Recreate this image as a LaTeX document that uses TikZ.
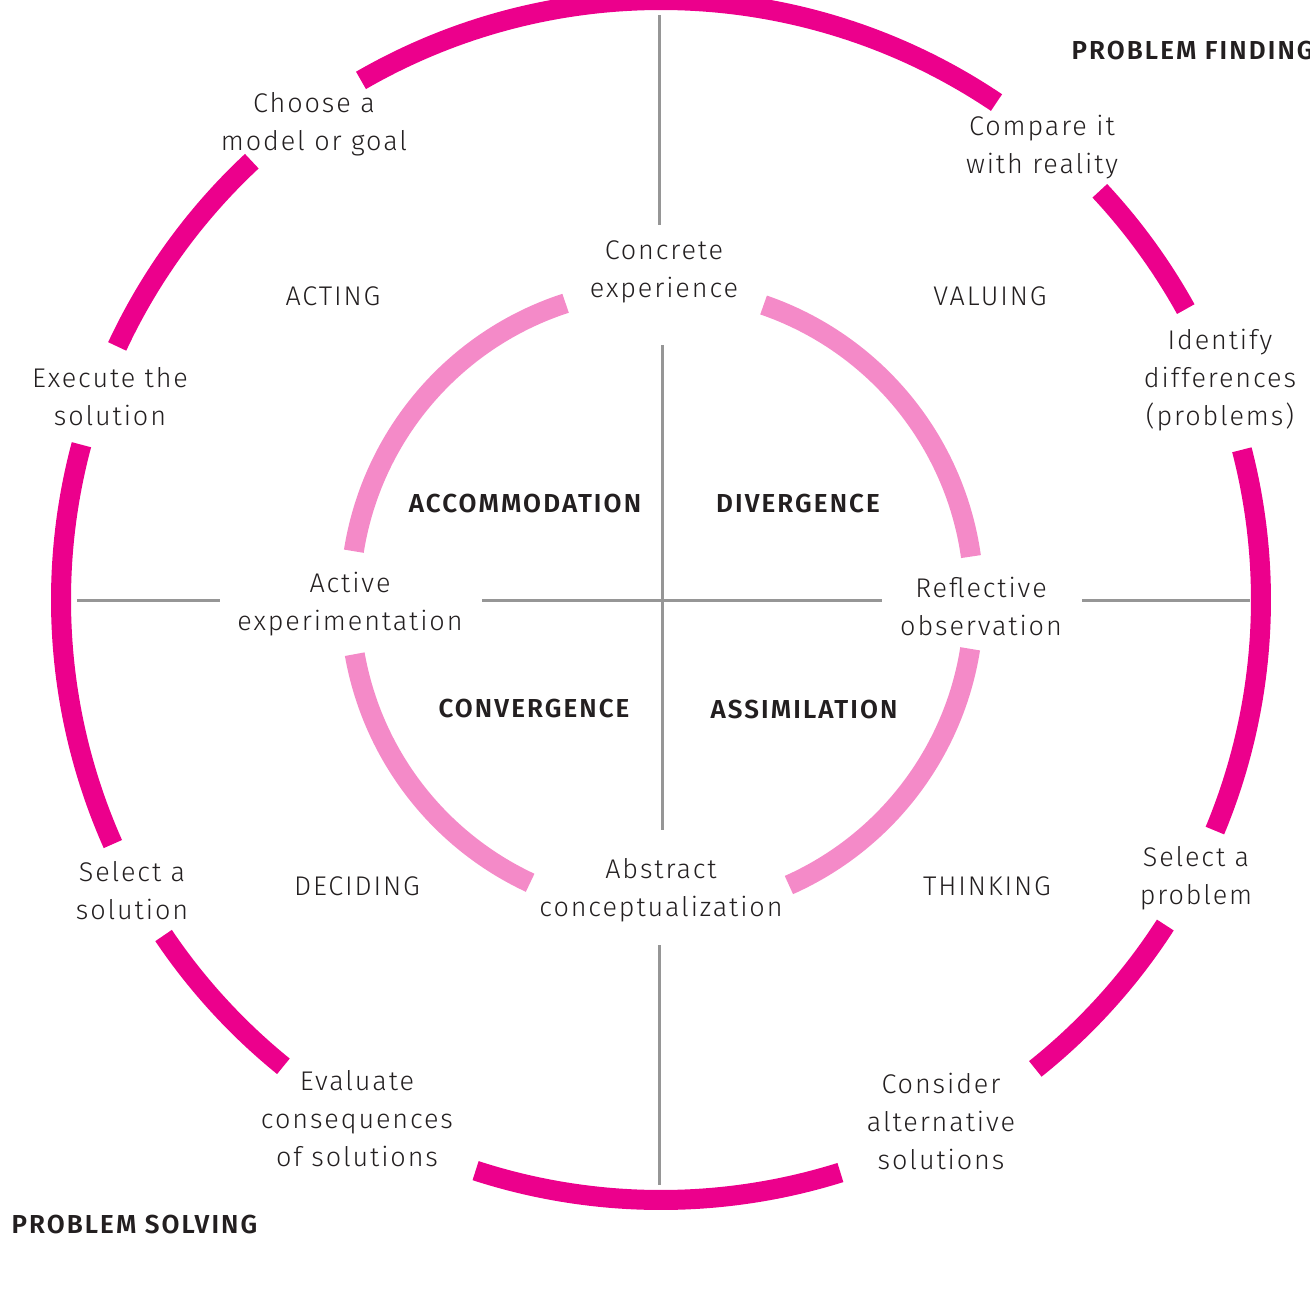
\documentclass[tikz,border=0pt]{standalone}
\usepackage{fontspec}
\usetikzlibrary{calc}
\setmainfont{Fira Sans Light}[BoldFont={Fira Sans SemiBold}]
\begin{document}
\begin{tikzpicture}[x=1pt,y=-1pt,
  outer/.style={draw={rgb,255:red,236;green,0;blue,140},line width=20pt},
  inner/.style={draw={rgb,255:red,244;green,138;blue,200},line width=20pt},
  axis/.style={draw={rgb,255:red,150;green,150;blue,150},line width=3pt},
  lbl/.style={align=center,font=\fontsize{27}{38}\selectfont\addfontfeatures{LetterSpace=7},text={rgb,255:red,35;green,31;blue,32}},
  bl/.style={font=\fontsize{26}{30}\selectfont\bfseries\addfontfeatures{LetterSpace=8},text={rgb,255:red,35;green,31;blue,32}}]
\useasboundingbox (0,0) rectangle (1310,1302);
\coordinate (O) at (661,600);
\coordinate (I) at (662,600);
\foreach \a/\b in {56/120,29/43,-22.6/14.5,-51.4/-32.8,-108/-72.6,-146/-129,165/204,133/155}{
  \draw[outer] ($(O)+({600*cos(\a)},{-600*sin(\a)})$) arc[start angle=-\a,end angle=-\b,radius=600];
}
\foreach \a/\b in {8/71,108/171,190/245,-66/-9}{
  \draw[inner] ($(I)+({312*cos(\a)},{-312*sin(\a)})$) arc[start angle=-\a,end angle=-\b,radius=312];
}
\draw[axis] (659,15) -- (659,225);
\draw[axis] (662,345) -- (662,830);
\draw[axis] (482,600) -- (882,600);
\draw[axis] (77,600) -- (220,600);
\draw[axis] (1082,600) -- (1250,600);
\draw[axis] (659,945) -- (659,1185);
\node[lbl] (ce) at (664,272) {Concrete\\experience};
\node[lbl] (ro) at (981,606) {Reflective\\observation};
\node[lbl] (ac) at (661,890) {Abstract\\conceptualization};
\node[lbl] (ae) at (350,604) {Active\\experimentation};
\node[lbl] (g1) at (314,124) {Choose a\\model or goal};
\node[lbl] (g2) at (1042,147) {Compare it\\with reality};
\node[lbl] (g3) at (1220,380) {Identify\\differences\\(problems)};
\node[lbl] (g4) at (1196,878) {Select a\\problem};
\node[lbl] (g5) at (941,1121) {Consider\\alternative\\solutions};
\node[lbl] (g6) at (357,1119) {Evaluate\\consequences\\of solutions};
\node[lbl] (g7) at (132,891) {Select a\\solution};
\node[lbl] (g8) at (110,397) {Execute the\\solution};
\node[lbl] (acting) at (333,296) {ACTING};
\node[lbl] (valuing) at (990,296) {VALUING};
\node[lbl] (deciding) at (357,886) {DECIDING};
\node[lbl] (thinking) at (987,886) {THINKING};
\node[bl] (acc) at (525,503) {ACCOMMODATION};
\node[bl] (div) at (798,503) {DIVERGENCE};
\node[bl] (con) at (534,708) {CONVERGENCE};
\node[bl] (ass) at (804,709) {ASSIMILATION};
\node[bl,anchor=west] (pf) at (1068,50) {PROBLEM FINDING};
\node[bl,anchor=west] (ps) at (8,1224) {PROBLEM SOLVING};
\end{tikzpicture}
\end{document}
